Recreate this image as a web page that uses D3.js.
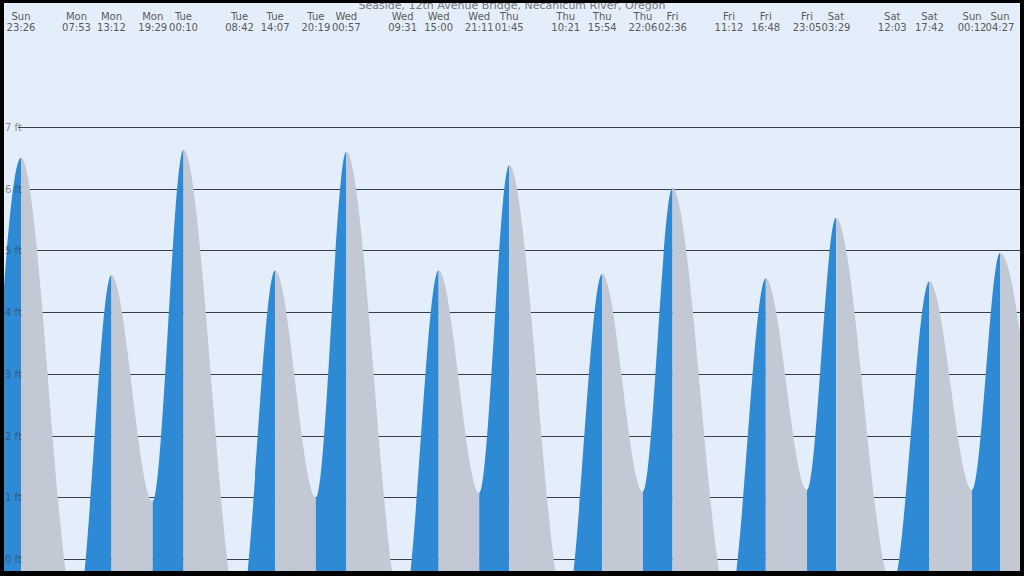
<!DOCTYPE html>
<html>
<head>
<meta charset="utf-8">
<script src="https://cdn.jsdelivr.net/npm/d3@7"></script>
<style>
  body { margin: 0; background: #000; }
  svg { display: block; }
</style>
</head>
<body>
<div id="tideChart"></div>
<script>
// tide events (high / low), day name + local time + height in ft
var tideDays = ["Sun","Mon","Mon","Mon","Tue","Tue","Tue","Tue","Wed","Wed","Wed","Wed","Thu",
                "Thu","Thu","Thu","Fri","Fri","Fri","Fri","Sat","Sat","Sat","Sun","Sun"];
var tideTimes = ["23:26","07:53","13:12","19:29","00:10","08:42","14:07","20:19","00:57","09:31","15:00","21:11","01:45",
                 "10:21","15:54","22:06","02:36","11:12","16:48","23:05","03:29","12:03","17:42","00:12","04:27"];
var tideHeights = [6.5, -0.95, 4.6, 0.93, 6.63, -0.95, 4.68, 1.0, 6.6, -0.9, 4.68, 1.07, 6.38,
                   -0.85, 4.62, 1.09, 6.01, -0.75, 4.55, 1.12, 5.53, -0.45, 4.5, 1.12, 4.96];
// events just outside the window (hours from first Sunday 00:00), so the edges have a curve
var edgeHours = [18.75, 178.9];
var edgeHeights = [0.9, 0.3];

var axisFeet = [0, 1, 2, 3, 4, 5, 6, 7];
var title = "Seaside, 12th Avenue Bridge, Necanicum River, Oregon";

var w = 1024, h = 576;
// note: "top" is taken by window.top, so plot edges get their own names
var plotL = 4, plotR = 1020, plotT = 3, plotB = 571;

// turn "Mon 07:53" into hours since the first Sunday, counting days forward
var dayIdx = {Sun:0, Mon:1, Tue:2, Wed:3, Thu:4, Fri:5, Sat:6};
var week = 0, lastDay = -1;
var events = tideDays.map(function(d, i){
  var di = dayIdx[d];
  if(lastDay >= 0 && di < lastDay) week += 7;
  lastDay = di;
  var hm = tideTimes[i].split(":");
  return {
    hours: (week + di) * 24 + (+hm[0]) + (+hm[1]) / 60,
    ft: tideHeights[i],
    day: d,
    time: tideTimes[i]
  };
});

var points = [{hours: edgeHours[0], ft: edgeHeights[0]}]
  .concat(events)
  .concat([{hours: edgeHours[1], ft: edgeHeights[1]}]);

var x = d3.scaleLinear().domain([20.846, 175.494]).range([plotL, plotR]);
var y = d3.scaleLinear().domain([0, 7]).range([559, 127]);

var svg = d3.select("#tideChart")
  .append("svg")
  .attr("width", w)
  .attr("height", h);

var defs = svg.append("defs");
defs.append("clipPath").attr("id", "plotClip")
  .append("rect")
  .attr("x", plotL).attr("y", plotT)
  .attr("width", plotR - plotL).attr("height", plotB - plotT);

svg.append("rect")
  .attr("x", plotL).attr("y", plotT)
  .attr("width", plotR - plotL).attr("height", plotB - plotT)
  .attr("fill", "#e4eefb");

var plot = svg.append("g").attr("clip-path", "url(#plotClip)");

// grid lines, they sit under the fill
plot.selectAll("line.grid")
  .data(axisFeet)
  .enter()
  .append("line")
  .attr("class", "grid")
  .attr("x1", 18).attr("x2", plotR)
  .attr("y1", function(d){ return Math.round(y(d)) + 0.5; })
  .attr("y2", function(d){ return Math.round(y(d)) + 0.5; })
  .attr("stroke", "#3a3f47")
  .attr("stroke-width", 1);

var area = d3.area()
  .x(function(d){ return x(d.hours); })
  .y0(plotB + 10)
  .y1(function(d){ return y(d.ft); })
  .curve(d3.curveMonotoneX);

var areaPath = area(points);

// one copy of the area per rise / fall, clipped to that stretch of time
for(var i = 0; i < points.length - 1; i++){
  var a = points[i], b = points[i + 1];
  var cid = "seg" + i;
  defs.append("clipPath").attr("id", cid)
    .append("rect")
    .attr("x", x(a.hours)).attr("y", 0)
    .attr("width", x(b.hours) - x(a.hours)).attr("height", h);
  plot.append("path")
    .attr("d", areaPath)
    .attr("clip-path", "url(#" + cid + ")")
    .attr("fill", b.ft > a.ft ? "#2e8ad5" : "#c3c8d5");
}

// ft labels on the left, faint where they cross the fill
plot.selectAll("text.ft")
  .data(axisFeet)
  .enter()
  .append("text")
  .attr("class", "ft")
  .attr("x", 5)
  .attr("y", function(d){ return y(d) + 4; })
  .attr("font-family", "DejaVu Sans, sans-serif")
  .attr("font-size", "10px")
  .attr("fill", "#333")
  .attr("fill-opacity", 0.55)
  .text(function(d){ return d + " ft"; });

// day / time labels over each high and low
var lab = svg.append("g")
  .attr("font-family", "DejaVu Sans, sans-serif")
  .attr("font-size", "10px")
  .attr("fill", "#5a5a5a")
  .attr("text-anchor", "middle");

lab.selectAll("text.day")
  .data(events)
  .enter()
  .append("text")
  .attr("class", "day")
  .attr("x", function(d){ return x(d.hours); })
  .attr("y", 20)
  .text(function(d){ return d.day; });

lab.selectAll("text.time")
  .data(events)
  .enter()
  .append("text")
  .attr("class", "time")
  .attr("x", function(d){ return x(d.hours); })
  .attr("y", 31)
  .text(function(d){ return d.time; });

svg.append("text")
  .attr("x", 512)
  .attr("y", 9)
  .attr("text-anchor", "middle")
  .attr("font-family", "DejaVu Sans, sans-serif")
  .attr("font-size", "11px")
  .attr("fill", "#777")
  .text(title);

// black frame round the picture
svg.append("rect").attr("x", 0).attr("y", 0).attr("width", w).attr("height", plotT).attr("fill", "#000");
svg.append("rect").attr("x", 0).attr("y", plotB).attr("width", w).attr("height", h - plotB).attr("fill", "#000");
svg.append("rect").attr("x", 0).attr("y", 0).attr("width", plotL).attr("height", h).attr("fill", "#000");
svg.append("rect").attr("x", plotR).attr("y", 0).attr("width", w - plotR).attr("height", h).attr("fill", "#000");
</script>
</body>
</html>
